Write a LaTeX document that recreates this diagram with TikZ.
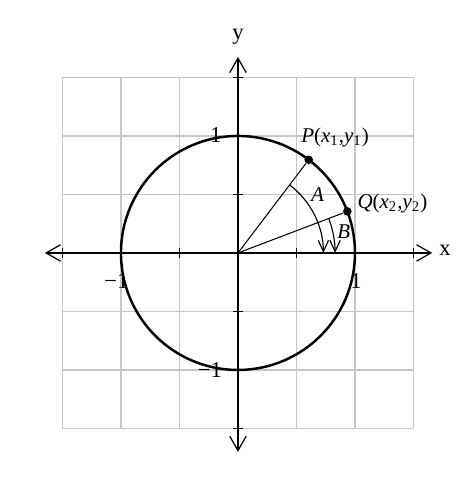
\documentclass[tikz,border=0pt]{standalone}
\usepackage{fontspec}
\setmainfont{Liberation Serif}
\usetikzlibrary{arrows.meta}
\begin{document}
\begin{tikzpicture}[x=2cm,y=2cm,
  gridline/.style={draw=black!22,line width=0.6pt},
  axisline/.style={line width=0.6pt,{Straight Barb[length=7pt,width=8pt]}-{Straight Barb[length=7pt,width=8pt]}},
  tickmark/.style={line width=0.5pt},
  unitcircle/.style={line width=1.2pt},
  radius line/.style={line width=0.5pt},
  anglearc/.style={line width=0.55pt,-{Straight Barb[length=5.5pt,width=5pt]}},
  dotpt/.style={circle,fill=black,inner sep=0pt,minimum size=4.2pt},
  lbl/.style={font=\fontsize{11}{13}\selectfont,inner sep=1pt},
  ptlbl/.style={font=\fontsize{10.2}{12}\selectfont,inner sep=1pt}]
\useasboundingbox (-2.034,-2.009) rectangle (2.017,2.162);
% grid
\draw[gridline] (-1.5,-1.5) grid[step=0.5] (1.5,1.5);
% axes
\coordinate (O) at (0,0);
\coordinate (xl) at (-1.65,0);
\coordinate (xr) at (1.66,0);
\coordinate (yb) at (0,-1.70);
\coordinate (yt) at (0,1.675);
\draw[axisline] (xl) -- (xr);
\draw[axisline] (yb) -- (yt);
\foreach \t in {-1.5,-1,-0.5,0.5,1,1.5}{
  \draw[tickmark] (\t,-0.04) -- (\t,0.04);
  \draw[tickmark] (-0.04,\t) -- (0.04,\t);
}
\node[lbl] (xlab) at (1.77,0.02) {x};
\node[lbl] (ylab) at (0,1.85) {y};
\node[lbl] (x1) at (1.01,-0.24) {1};
\node[lbl] (xm1) at (-1.04,-0.24) {−1};
\node[lbl] (y1) at (-0.19,1.01) {1};
\node[lbl] (ym1) at (-0.24,-1.0) {−1};
% circle
\draw[unitcircle] (O) circle[radius=1];
% points
\node[dotpt] (P) at (52.8:1) {};
\node[dotpt] (Q) at (20.8:1) {};
\draw[radius line] (O) -- (P);
\draw[radius line] (O) -- (Q);
\node[ptlbl] (Plab) at (0.83,0.99) {\textit{P}(\textit{x}\textsubscript{1},\textit{y}\textsubscript{1})};
\node[ptlbl] (Qlab) at (1.32,0.42) {\textit{Q}(\textit{x}\textsubscript{2},\textit{y}\textsubscript{2})};
% arcs
\draw[anglearc] (52.8:0.73) arc[start angle=52.8,end angle=0,radius=0.73];
\draw[anglearc] (20.8:0.83) arc[start angle=20.8,end angle=0,radius=0.83];
\node[ptlbl] (Alab) at (0.68,0.50) {\textit{A}};
\node[ptlbl] (Blab) at (0.905,0.18) {\textit{B}};
\end{tikzpicture}
\end{document}
